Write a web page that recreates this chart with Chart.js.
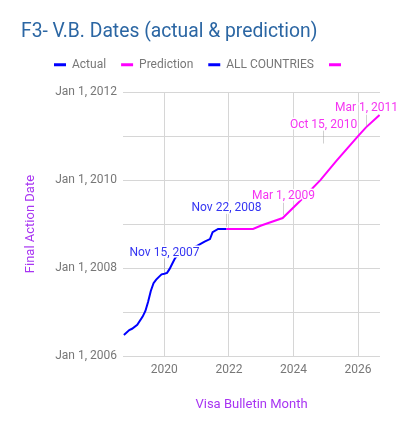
<!DOCTYPE html>
<html>
<head>
<meta charset="utf-8">
<script src="https://cdn.jsdelivr.net/npm/chart.js@4.4.1/dist/chart.umd.min.js"></script>
<style>
  html, body { margin: 0; padding: 0; background: #fff; }
</style>
</head>
<body>
<canvas id="chartDates" width="400" height="433"></canvas>
<script>
// bulletin month -> final action date
let actualMonths = ["2018-10", "2018-12", "2019-01", "2019-03", "2019-05", "2019-06", "2019-07", "2019-08",
  "2019-09", "2019-10", "2019-11", "2019-12", "2020-01", "2020-02", "2020-03", "2020-04", "2020-05",
  "2020-07", "2020-10", "2021-01", "2021-04", "2021-06", "2021-07", "2021-09", "2021-12"];
let actualDates = ["2006-06-24", "2006-08-04", "2006-08-15", "2006-09-16", "2006-11-24", "2007-01-10", "2007-03-25", "2007-06-25",
  "2007-08-29", "2007-09-27", "2007-10-20", "2007-11-10", "2007-11-15", "2007-11-22", "2007-12-25", "2008-02-08", "2008-03-22",
  "2008-05-12", "2008-06-05", "2008-07-01", "2008-08-08", "2008-08-29", "2008-10-25", "2008-11-22", "2008-11-22"];

let predictionMonths = ["2021-12", "2022-10", "2023-01", "2023-09", "2024-03", "2024-11", "2025-05", "2026-01", "2026-04", "2026-09"];
let predictionDates = ["2008-11-22", "2008-11-22", "2008-12-20", "2009-02-20", "2009-07-01", "2010-01-01", "2010-06-10", "2011-01-01", "2011-03-15", "2011-06-25"];

// annotated points
let countryMonths = ["2020-01", "2021-12"];
let countryDates = ["2007-11-15", "2008-11-22"];
let outlookMonths = ["2023-09", "2024-12", "2026-04"];
let outlookDates = ["2009-03-01", "2010-10-15", "2011-03-01"];

let xTickYears = [2020, 2022, 2024, 2026];
let monthNames = ["Jan", "Feb", "Mar", "Apr", "May", "Jun", "Jul", "Aug", "Sep", "Oct", "Nov", "Dec"];

function toYear(s) {
  let p = s.split("-").map(Number);
  let y = p[0], m = p[1] || 1, d = p[2] || 1;
  let t0 = Date.UTC(y, 0, 1), t1 = Date.UTC(y + 1, 0, 1);
  return y + (Date.UTC(y, m - 1, d) - t0) / (t1 - t0);
}
function dateLabel(s) {
  let p = s.split("-").map(Number);
  return monthNames[p[1] - 1] + " " + p[2] + ", " + p[0];
}
function points(months, dates) {
  return months.map((m, i) => ({ x: toYear(m), y: toYear(dates[i]) }));
}

const BLUE = "#0000ff";
const MAGENTA = "#ff00ff";
const PURPLE = "#a834f2";

Chart.defaults.font.family = "Roboto";

const annotationLabels = {
  id: "annotationLabels",
  afterDatasetsDraw(chart) {
    const ctx = chart.ctx;
    const xs = chart.scales.x, ys = chart.scales.y;
    ctx.save();
    ctx.font = "12px Roboto";
    ctx.textAlign = "center";
    ctx.textBaseline = "middle";
    chart.data.datasets.forEach(ds => {
      if (!ds.labelTexts) return;
      ds.data.forEach((pt, i) => {
        let px = Math.round(xs.getPixelForValue(pt.x)) + 0.5;
        let py = ys.getPixelForValue(pt.y);
        ctx.strokeStyle = "rgba(150,150,150,0.45)";
        ctx.lineWidth = 1;
        ctx.beginPath();
        ctx.moveTo(px, py - 2);
        ctx.lineTo(px, py - 15);
        ctx.stroke();
        ctx.lineWidth = 3;
        ctx.lineJoin = "round";
        ctx.strokeStyle = "#ffffff";
        ctx.strokeText(ds.labelTexts[i], px, py - 21);
        ctx.fillStyle = ds.labelColor;
        ctx.fillText(ds.labelTexts[i], px, py - 21);
      });
    });
    ctx.restore();
  }
};

const legendGap = {
  id: "legendGap",
  beforeInit(chart) {
    const fit = chart.legend.fit;
    chart.legend.fit = function () {
      fit.call(this);
      this.height += 11.5;
    };
  }
};

new Chart(document.getElementById("chartDates"), {
  type: "line",
  data: {
    datasets: [
      {
        label: "Actual",
        data: points(actualMonths, actualDates),
        borderColor: BLUE,
        backgroundColor: BLUE,
        borderWidth: 2,
        pointRadius: 0
      },
      {
        label: "Prediction",
        data: points(predictionMonths, predictionDates),
        borderColor: MAGENTA,
        backgroundColor: MAGENTA,
        borderWidth: 2,
        pointRadius: 0
      },
      {
        label: "ALL COUNTRIES",
        data: points(countryMonths, countryDates),
        labelTexts: countryDates.map(dateLabel),
        labelColor: "#3535f2",
        borderColor: BLUE,
        backgroundColor: BLUE,
        showLine: false,
        pointRadius: 0
      },
      {
        label: "",
        data: points(outlookMonths, outlookDates),
        labelTexts: outlookDates.map(dateLabel),
        labelColor: "#f535f2",
        borderColor: MAGENTA,
        backgroundColor: MAGENTA,
        showLine: false,
        pointRadius: 0
      }
    ]
  },
  options: {
    responsive: false,
    animation: false,
    layout: { padding: { left: 21, right: 20, top: 0, bottom: 14 } },
    plugins: {
      title: {
        display: true,
        text: "F3- V.B. Dates (actual & prediction)",
        align: "start",
        color: "#2b66a3",
        font: { size: 19.3, weight: "normal" },
        padding: { top: 21, bottom: -0.5 }
      },
      legend: {
        labels: {
          boxWidth: 12,
          boxHeight: 3,
          padding: 15,
          color: "#777777",
          font: { size: 12 },
          generateLabels(chart) {
            return Chart.defaults.plugins.legend.labels.generateLabels(chart)
              .map(item => Object.assign(item, { lineWidth: 0 }));
          }
        }
      },
      tooltip: { enabled: false }
    },
    scales: {
      x: {
        type: "linear",
        min: 2018.72,
        max: 2026.68,
        afterBuildTicks(scale) {
          scale.ticks = xTickYears.map(v => ({ value: v }));
        },
        afterFit(scale) { scale.height = 63; },
        ticks: {
          color: "#777777",
          font: { size: 12 },
          padding: 7,
          maxRotation: 0,
          callback: v => String(v)
        },
        grid: { color: "#d6d6d6", drawTicks: false },
        border: { display: false },
        title: {
          display: true,
          text: "Visa Bulletin Month",
          color: PURPLE,
          font: { size: 13 },
          padding: { top: 0, bottom: 6 }
        }
      },
      y: {
        type: "linear",
        min: 2006,
        max: 2012,
        afterFit(scale) { scale.width = 102; },
        ticks: {
          stepSize: 1,
          autoSkip: false,
          color: "#777777",
          font: { size: 12 },
          padding: 6,
          callback: v => (Math.round(v) % 2 === 0 ? "Jan 1, " + Math.round(v) : "")
        },
        grid: { color: "#d6d6d6", drawTicks: false },
        border: { display: false },
        title: {
          display: true,
          text: "Final Action Date",
          color: PURPLE,
          font: { size: 13 },
          padding: { top: 2, bottom: 0 }
        }
      }
    }
  },
  plugins: [legendGap, annotationLabels]
});
</script>
</body>
</html>
